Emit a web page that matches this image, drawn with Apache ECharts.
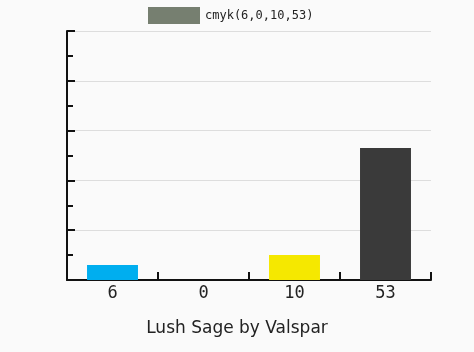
<!DOCTYPE html>
<html>
<head>
<meta charset="utf-8">
<script src="https://cdn.jsdelivr.net/npm/echarts@6/dist/echarts.min.js"></script>
<style>
  html, body { margin: 0; padding: 0; background: #fafafa; }
  #main { width: 474px; height: 352px; }
</style>
</head>
<body>
<div id="main"></div>
<script>
// CMYK components of the colour
const categories = ['6', '0', '10', '53'];
const values = [6, 0, 10, 53];
const barColors = ['#00aeef', '#ec008c', '#f5e800', '#3a3a3a'];
const seriesName = 'cmyk(6,0,10,53)';
const swatch = '#767f70';

var chart = echarts.init(document.getElementById('main'));

var option = {
  backgroundColor: '#fafafa',
  title: {
    text: 'Lush Sage by Valspar',
    left: 'center',
    bottom: 10,
    textStyle: { fontFamily: 'DejaVu Sans', fontSize: 17, fontWeight: 'normal', color: '#222' }
  },
  legend: {
    top: 2,
    left: 143,
    icon: 'rect',
    itemWidth: 52,
    itemHeight: 17,
    itemGap: 6,
    data: [seriesName],
    textStyle: { fontFamily: 'DejaVu Sans Mono', fontSize: 12, color: '#222' }
  },
  grid: { left: 67, right: 43, top: 31, bottom: 72 },
  xAxis: {
    type: 'category',
    data: categories,
    axisLine: { lineStyle: { color: '#111', width: 2 } },
    axisTick: { show: true, inside: true, length: 8, lineStyle: { color: '#111', width: 2 } },
    axisLabel: { fontFamily: 'DejaVu Sans Mono', fontSize: 17, color: '#222', margin: 5 }
  },
  yAxis: {
    type: 'value',
    min: 0,
    max: 100,
    interval: 20,
    axisLine: { show: true, lineStyle: { color: '#111', width: 2 } },
    axisTick: { show: true, inside: true, length: 8, lineStyle: { color: '#111', width: 2 } },
    minorTick: { show: true, splitNumber: 2, length: 6, lineStyle: { color: '#111', width: 2 } },
    axisLabel: { show: false },
    splitLine: { lineStyle: { color: '#dddddd', width: 1 } }
  },
  series: [{
    name: seriesName,
    type: 'bar',
    barWidth: '56%',
    itemStyle: { color: swatch },
    data: values.map((v, i) => ({ value: v, itemStyle: { color: barColors[i] } }))
  }]
};

chart.setOption(option);
</script>
</body>
</html>
